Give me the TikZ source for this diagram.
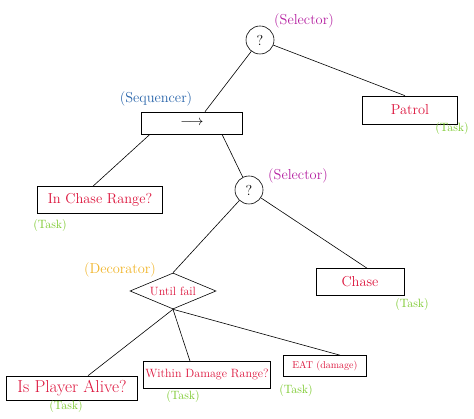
\documentclass[tikz,border=0pt]{standalone}
\usetikzlibrary{shapes.geometric}
\definecolor{taskred}{RGB}{220,20,60}
\definecolor{selpink}{RGB}{180,30,160}
\definecolor{seqblue}{RGB}{40,100,170}
\definecolor{taskgreen}{RGB}{120,200,40}
\definecolor{decorange}{RGB}{240,180,40}
\begin{document}
\begin{tikzpicture}
[x=1pt,y=-1pt,semithick,
 sel/.style={circle,draw=black,minimum size=28pt,inner sep=0pt,font=\Large},
 task/.style={rectangle,draw=black,minimum height=24pt,inner sep=2pt,text=taskred,font=\Large},
 deco/.style={diamond,draw=black,aspect=2.4,minimum width=86pt,minimum height=36pt,inner sep=0pt,text=taskred,font=\large},
 lbl/.style={font=\Large,inner sep=0pt},
 tasklbl/.style={font=\large,inner sep=0pt,text=taskgreen}]
\useasboundingbox (0,0) rectangle (474,419);
% composite nodes
\node[sel] (sel1) at (260,40) {?};
\node[task,minimum width=101pt,minimum height=22pt,text=black] (seq) at (192,123) {$\longrightarrow$};
\node[sel] (sel2) at (249,190) {?};
\node[deco] (until) at (173,291) {Until fail};
% leaves
\node[task,minimum width=95pt,minimum height=28pt] (patrol) at (410,110) {Patrol};
\node[task,minimum width=125pt,minimum height=27pt] (chaserange) at (100,200) {In Chase Range?};
\node[task,minimum width=88pt,minimum height=27pt] (chase) at (360,282) {Chase};
\node[task,minimum width=131pt,font=\LARGE] (alive) at (72,388) {Is Player Alive?};
\node[task,minimum width=127pt,minimum height=27pt,font=\large] (dmgrange) at (207,375) {Within Damage Range?};
\node[task,minimum width=83pt,minimum height=21pt,font=\normalsize] (eat) at (325,366) {EAT (damage)};
% labels
\node[lbl,text=selpink] (sel1lbl) at (304,21) {(Selector)};
\node[lbl,text=seqblue] (seqlbl) at (156,99) {(Sequencer)};
\node[lbl,text=selpink] (sel2lbl) at (298,176) {(Selector)};
\node[lbl,text=decorange] (untillbl) at (120,270) {(Decorator)};
\node[tasklbl] (patrollbl) at (452,129) {(Task)};
\node[tasklbl] (chaserangelbl) at (50,226) {(Task)};
\node[tasklbl] (chaselbl) at (412,305) {(Task)};
\node[tasklbl] (alivelbl) at (66,407) {(Task)};
\node[tasklbl] (dmgrangelbl) at (183,397) {(Task)};
\node[tasklbl] (eatlbl) at (296,391) {(Task)};
% edges
\draw (sel1) -- ([xshift=13pt]seq.north);
\draw (sel1) -- ([xshift=-5pt]patrol.north);
\draw ([xshift=-42pt]seq.south) -- ([xshift=-7pt]chaserange.north);
\draw ([xshift=30pt]seq.south) -- (sel2);
\draw (sel2) -- (until.north);
\draw (sel2) -- ([xshift=7pt]chase.north);
\draw (until.south) -- ([xshift=16pt]alive.north);
\draw (until.south) -- ([xshift=-17pt]dmgrange.north);
\draw (until.south) -- ([xshift=15pt]eat.north);
\end{tikzpicture}
\end{document}
